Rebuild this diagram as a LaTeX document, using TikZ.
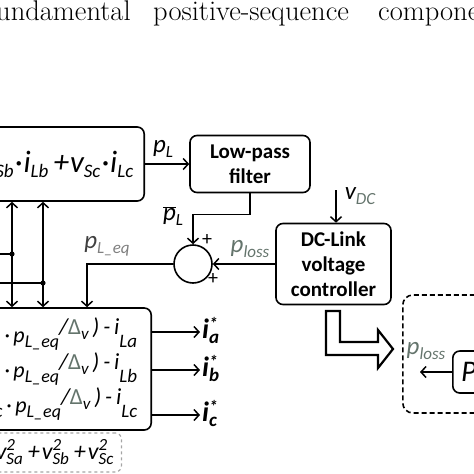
\documentclass[tikz,border=0pt]{standalone}
\usepackage{fontspec}
\usetikzlibrary{arrows.meta,positioning}
\newfontfamily\diagfont{Carlito}
\definecolor{lblgray}{RGB}{100,116,108}
\definecolor{boxgray}{RGB}{165,165,165}

\tikzset{
	barb/.tip={Straight Barb[length=5pt,width=11pt]},
	blk/.style={draw, rounded corners=7pt, line width=1.6pt, align=center,
		font=\diagfont\bfseries\fontsize{21}{25}\selectfont},
	sig/.style={line width=1.5pt, -barb},
	dsig/.style={line width=1.5pt, barb-barb},
	lbl/.style={inner sep=0pt, font=\diagfont\itshape\fontsize{25}{25}\selectfont},
	head/.style={font=\fontsize{28.5}{30}\selectfont, anchor=base west, inner sep=0pt}
}
\newcommand{\lo}[2][17]{\raisebox{-5pt}{\fontsize{#1}{#1}\selectfont #2}}
\newcommand{\hi}[1]{\rlap{\raisebox{9pt}{\fontsize{17}{17}\selectfont #1}}}
\newcommand{\vi}[2]{v\lo[19]{#1}\hspace{1pt}·\hspace{1pt}i\lo[19]{#2}}
\newcommand{\crow}[1]{(v\lo[19]{S#1}\,·\,p\lo[18]{L\_eq}\raisebox{8pt}{\fontsize{23}{23}\selectfont
		/\textcolor{lblgray}{\upshape Δ}\lo{v}\,)\,-\,i}\lo[19]{L#1}}
\newcommand{\istar}[1]{i\hi{*}\lo[19]{#1}}
\newcommand{\vsq}[1]{v\hi{2}\lo{S#1}}

\begin{document}
\begin{tikzpicture}[x=1pt,y=-1pt]
		\useasboundingbox (0,0) rectangle (474,474);
		\clip (0,0) rectangle (474,474);
		
		% heading
		\node[head] (w1) at (-4,20) {undamental};
		\node[head] (w2) at (153,20) {positive-sequence};
		\node[head] (w3) at (378,20) {components};
		
		% blocks
		\node[blk, anchor=east, minimum height=74pt, inner xsep=11pt,
		font=\diagfont\itshape\fontsize{31}{31}\selectfont] (ppow) at (145,164)
		{\vi{Sa}{La}\,+\hspace{1pt}\vi{Sb}{Lb}\,+\hspace{1pt}\vi{Sc}{Lc}};
		\node[blk, minimum width=120pt, minimum height=57pt] (lpf) at (250,164) {Low-pass\\filter};
		\node[blk, minimum width=115pt, minimum height=81pt] (dc) at (333.5,264) {DC-Link\\voltage\\controller};
		\node[draw, circle, line width=1.6pt, minimum size=38pt, inner sep=0pt] (sum) at (193,264) {};
		\node[blk, anchor=east, minimum height=122pt, inner xsep=14pt, align=right,
		font=\diagfont\itshape\fontsize{22}{35}\selectfont] (cur) at (152,369)
		{\crow{a}\\\crow{b}\\\crow{c}};
		\node[draw=boxgray, dashed, rounded corners=6pt, line width=1.2pt, anchor=east,
		minimum height=39pt, inner xsep=8pt, inner ysep=0pt,
		font=\diagfont\itshape\fontsize{24}{24}\selectfont] (dv) at (122,452.5)
		{\upshape Δ\itshape\lo{v}\hspace{5pt}=\hspace{2pt}\vsq{a}\hspace{5pt}+\hspace{2pt}\vsq{b}\hspace{5pt}+\hspace{2pt}\vsq{c}};
		\node[draw, dashed, dash pattern=on 5pt off 3pt, rounded corners=10pt, line width=1.6pt,
		anchor=west, minimum width=130pt, minimum height=118pt] (ctl) at (402,354) {};
		\node[blk, anchor=west, minimum width=60pt, minimum height=42pt] (pbox) at (452,372) {};
		\node[lbl, anchor=west, font=\diagfont\itshape\fontsize{30}{30}\selectfont] (plab) at (461,372) {P};
		
		% labels
		\node[lbl] (lpl) at (163,149) {p\lo{L}};
		\node[lbl] (lpbar) at (173,216) {$\overline{\hbox{p}}$\lo{L}};
		\node[lbl, text=darkgray] (lpeq) at (107,246) {p\textcolor{gray}{\lo{L\_eq}}};
		\node[lbl, text=lblgray] (lloss) at (250,249) {p\lo{loss}};
		\node[lbl] (lvdc) at (360,196) {v\textcolor{lblgray}{\lo{DC}}};
		\node[lbl, text=lblgray] (lloss2) at (426,351) {p\lo{loss}};
		\node[inner sep=0pt, font=\diagfont\fontsize{20}{20}\selectfont] (pa) at (207,240) {+};
		\node[inner sep=0pt, font=\diagfont\fontsize{20}{20}\selectfont] (pb) at (213,279) {+};
		\node[lbl, anchor=west, font=\diagfont\bfseries\itshape\fontsize{28}{28}\selectfont] (ia) at (202,330) {\istar{a}};
		\node[lbl, anchor=west, font=\diagfont\bfseries\itshape\fontsize{28}{28}\selectfont] (ib) at (202,368) {\istar{b}};
		\node[lbl, anchor=west, font=\diagfont\bfseries\itshape\fontsize{28}{28}\selectfont] (ic) at (202,413) {\istar{c}};
		
		% free ends
		\coordinate (xa) at (12,0);
		\coordinate (xb) at (43,0);
		\coordinate (xq) at (87,0);
		\coordinate (ja) at (12,254);
		\coordinate (jb) at (43,283);
		\coordinate (vin) at (336,190);
		\coordinate (oa) at (200,332);
		\coordinate (ob) at (200,370);
		\coordinate (oc) at (200,415);
		\coordinate (lout) at (420,372);
		
		% connectors
		\draw[sig] (ppow.east |- lpf) -- (lpf.west);
		\draw[sig] (lpf.south) -- ++(0,21) -| (sum.north);
		\draw[sig] (dc.west |- sum) -- (sum.east);
		\draw[sig] (vin) -- (vin |- dc.north);
		\draw[sig] (sum.west) -| (cur.north -| xq);
		\draw[dsig] (ppow.south -| xa) -- (cur.north -| xa);
		\draw[dsig] (ppow.south -| xb) -- (cur.north -| xb);
		\draw[line width=1.5pt] (ja -| 0,0) -- (ja);
		\draw[line width=1.5pt] (jb -| 0,0) -- (jb);
		\fill (ja) circle (2.6pt);
		\fill (jb) circle (2.6pt);
		\draw[sig] (cur.east |- oa) -- (oa);
		\draw[sig] (cur.east |- ob) -- (ob);
		\draw[sig] (cur.east |- oc) -- (oc);
		\draw[sig] (pbox.west) -- (lout);
		
		% hollow arrow
		\draw[line width=2.2pt, line join=miter] (326,311) -- (340,311) -- (340,342) -- (378,342)
		-- (378,330) -- (393,349) -- (378,368) -- (378,355) -- (326,355) -- cycle;
\end{tikzpicture}
\end{document}
